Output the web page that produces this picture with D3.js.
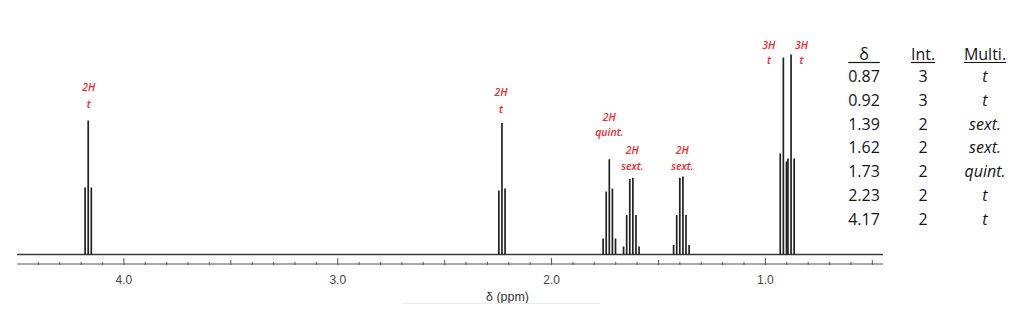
<!DOCTYPE html>
<html>
<head>
<meta charset="utf-8">
<script src="https://cdn.jsdelivr.net/npm/d3@7"></script>
<style>
    body { margin: 0; background: white; }
    svg { display: block; }
    .tick-label { font-family: 'Liberation Sans', Arial, sans-serif; font-size: 12px; fill: #444; }
    .axis-title { font-family: 'Liberation Sans', Arial, sans-serif; font-size: 12.5px; fill: #333; }
    .peak-label { font-family: 'Open Sans', sans-serif; font-size: 10.5px; font-style: italic; font-weight: 600; fill: #f2282d; }
    .table-text { font-family: 'Open Sans', sans-serif; font-size: 16px; fill: #151515; }
</style>
</head>
<body>
<div id="chart"></div>
<script>
// multiplets (ppm, relative line heights)
var centers = [4.167, 2.232, 1.730, 1.627, 1.393, 0.916, 0.880]
var lineHeights = [
    [0.335, 0.67, 0.335],
    [0.32, 0.6575, 0.33],
    [0.08, 0.315, 0.476, 0.33, 0.08],
    [0.04, 0.1975, 0.378, 0.384, 0.1975, 0.04],
    [0.0475, 0.1975, 0.384, 0.39, 0.1975, 0.0475],
    [0.505, 0.985, 0.465],
    [0.48, 1.0, 0.48]
]
var couplingPpm = 0.0145
var labelH = ['2H', '2H', '2H', '2H', '2H', '3H', '3H']
var labelMult = ['t', 't', 'quint.', 'sext.', 'sext.', 't', 't']

// table on the right
var tableHeaders = ['δ', 'Int.', 'Multi.']
var tableShift = ['0.87', '0.92', '1.39', '1.62', '1.73', '2.23', '4.17']
var tableInt = ['3', '3', '2', '2', '2', '2', '2']
var tableMulti = ['t', 't', 'sext.', 'sext.', 'quint.', 't', 't']

// axis
var tickLabels = [4.0, 3.0, 2.0, 1.0]
var axisTitle = 'δ (ppm)'

var layout = {
    width: 1036,
    height: 325,
    plotLeft: 17,
    plotRight: 883,
    baseline: 254.5,
    peakTop: 54.5,
    axisY: 264,
    // label placement per multiplet: x offset from centre, baselines of both lines
    labels: [
        { dx: 0.5, y1: 91, y2: 108 },
        { dx: -1, y1: 96, y2: 112.5 },
        { dx: 0, y1: 121, y2: 136 },
        { dx: 1, y1: 153.5, y2: 170 },
        { dx: 1, y1: 153.5, y2: 170 },
        { dx: -14.5, y1: 48.5, y2: 63.5 },
        { dx: 10.5, y1: 48.5, y2: 63.5 }
    ],
    columns: [864, 923, 985],
    headerY: 60,
    rowY: 81.7,
    rowStep: 23.9
}

var svg = d3.select('#chart').append('svg')
    .attr('width', layout.width)
    .attr('height', layout.height)

svg.append('rect')
    .attr('width', '100%')
    .attr('height', '100%')
    .attr('fill', 'white')

var x = d3.scaleLinear().domain([4.5, 0.45]).range([layout.plotLeft, layout.plotRight])
var y = d3.scaleLinear().domain([0, 1]).range([layout.baseline, layout.peakTop])

// spectrum baseline
svg.append('line')
    .attr('x1', x(4.5)).attr('x2', x(0.45))
    .attr('y1', y(0)).attr('y2', y(0))
    .attr('stroke', '#3a3a3a')
    .attr('stroke-width', 1.4)

// individual lines of each multiplet
var sticks = []
centers.forEach(function (c, m) {
    var n = lineHeights[m].length
    lineHeights[m].forEach(function (h, i) {
        sticks.push({ ppm: c + ((n - 1) / 2 - i) * couplingPpm, h: h })
    })
})

svg.append('g').attr('id', 'peaks')
    .selectAll('line')
    .data(sticks)
    .enter().append('line')
    .attr('x1', function (d) { return x(d.ppm) })
    .attr('x2', function (d) { return x(d.ppm) })
    .attr('y1', y(0))
    .attr('y2', function (d) { return y(d.h) })
    .attr('stroke', '#222')
    .attr('stroke-width', 1.7)

// red annotations
var labels = svg.append('g').attr('id', 'labels')
centers.forEach(function (c, m) {
    var pos = layout.labels[m]
    labels.append('text')
        .attr('class', 'peak-label')
        .attr('x', x(c) + pos.dx)
        .attr('y', pos.y1)
        .attr('text-anchor', 'middle')
        .text(labelH[m])
    labels.append('text')
        .attr('class', 'peak-label')
        .attr('x', x(c) + pos.dx)
        .attr('y', pos.y2)
        .attr('text-anchor', 'middle')
        .text(labelMult[m])
})

// x axis
var axis = svg.append('g').attr('id', 'axis')
axis.append('line')
    .attr('x1', x(4.5)).attr('x2', x(0.45))
    .attr('y1', layout.axisY).attr('y2', layout.axisY)
    .attr('stroke', '#555')
    .attr('stroke-width', 1.2)

var ticks = d3.range(44, 4, -1).map(function (t) { return t / 10 })
axis.selectAll('line.tick')
    .data(ticks)
    .enter().append('line')
    .attr('class', 'tick')
    .attr('x1', function (d) { return x(d) })
    .attr('x2', function (d) { return x(d) })
    .attr('y1', function (d) {
        var k = Math.round(d * 10)
        if (k % 10 === 0) return layout.axisY - 6
        if (k % 5 === 0) return layout.axisY - 4
        return layout.axisY - 2
    })
    .attr('y2', layout.axisY + 1)
    .attr('stroke', '#555')
    .attr('stroke-width', 1)

axis.selectAll('text')
    .data(tickLabels)
    .enter().append('text')
    .attr('class', 'tick-label')
    .attr('x', function (d) { return x(d) })
    .attr('y', 284)
    .attr('text-anchor', 'middle')
    .text(function (d) { return d.toFixed(1) })

axis.append('text')
    .attr('class', 'axis-title')
    .attr('x', 507.5)
    .attr('y', 301)
    .attr('text-anchor', 'middle')
    .text(axisTitle)

svg.append('line')
    .attr('x1', 402).attr('x2', 600)
    .attr('y1', 303.5).attr('y2', 303.5)
    .attr('stroke', '#ebebeb')
    .attr('stroke-width', 1)

// table
var table = svg.append('g').attr('id', 'table')
var columnsData = [tableShift, tableInt, tableMulti]
columnsData.forEach(function (col, c) {
    table.selectAll('text.col' + c)
        .data(col)
        .enter().append('text')
        .attr('class', 'table-text col' + c)
        .attr('x', layout.columns[c])
        .attr('y', function (d, i) { return layout.rowY + i * layout.rowStep })
        .attr('text-anchor', 'middle')
        .style('font-style', c === 2 ? 'italic' : 'normal')
        .text(function (d) { return d })
})

var colWidth = table.select('text.col0').node().getBBox().width
tableHeaders.forEach(function (h, c) {
    var t = table.append('text')
        .attr('class', 'table-text')
        .attr('x', layout.columns[c])
        .attr('y', layout.headerY)
        .attr('text-anchor', 'middle')
        .text(h)
    var w = c === 0 ? colWidth : t.node().getBBox().width
    table.append('line')
        .attr('x1', layout.columns[c] - w / 2)
        .attr('x2', layout.columns[c] + w / 2)
        .attr('y1', layout.headerY + 2.5)
        .attr('y2', layout.headerY + 2.5)
        .attr('stroke', '#151515')
        .attr('stroke-width', 1.2)
})
</script>
</body>
</html>
